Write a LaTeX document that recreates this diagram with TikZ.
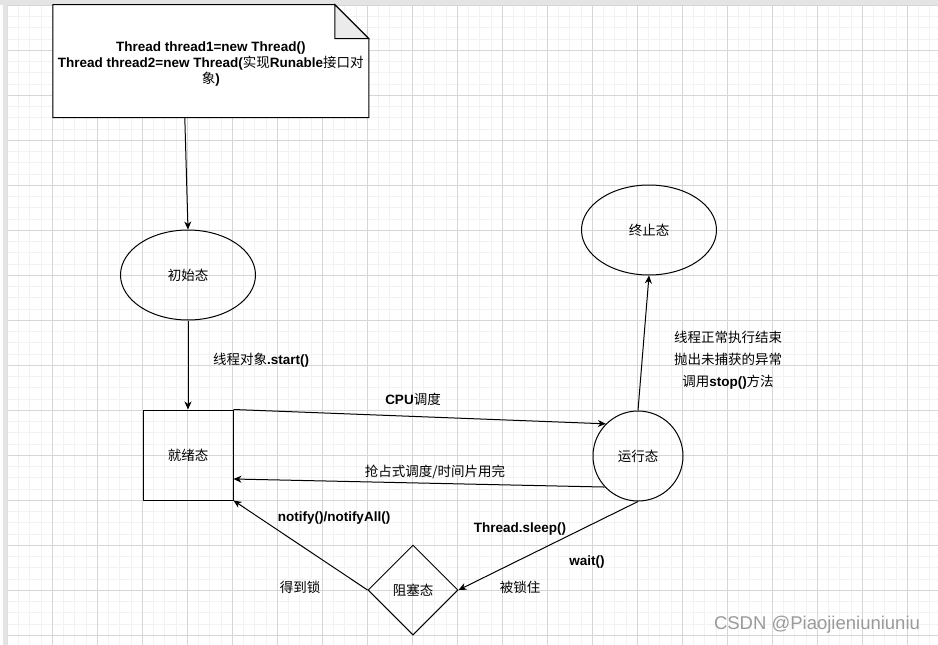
\documentclass[tikz,border=0pt]{standalone}
\usepackage{fontspec}
\setmainfont{Liberation Sans}
\newfontfamily\cjk{Noto Sans CJK SC}
\usetikzlibrary{arrows.meta,positioning,calc,shapes.geometric}
\definecolor{gridminor}{HTML}{F2F2F2}
\definecolor{gridmajor}{HTML}{D6D6D6}
\definecolor{framegray}{HTML}{E4E4E4}
\definecolor{foldgray}{HTML}{EBEBEB}
\definecolor{markgray}{HTML}{9A9A9A}
\newcommand{\zh}[1]{{\cjk\mdseries #1}}
\tikzset{
  txt/.style={font=\fontsize{13.5}{16}\selectfont\bfseries, align=center},
  state/.style={draw=black, line width=1pt, txt, inner sep=0pt},
  ovalstate/.style={state, ellipse, minimum width=135pt, minimum height=90pt},
  boxstate/.style={state, rectangle, minimum width=90pt, minimum height=90pt},
  roundstate/.style={state, circle, minimum size=90pt},
  diamondstate/.style={state, diamond, aspect=1, minimum size=90pt},
  notebox/.style={txt, minimum width=315pt, minimum height=112pt, inner sep=0pt},
  lbl/.style={txt, inner sep=1pt},
  arrow/.style={-{Stealth[length=8pt, width=7pt, inset=2.5pt]}, line width=1pt, draw=black}
}

\begin{document}
\begin{tikzpicture}[x=1pt, y=-1pt, line width=1pt]
  \useasboundingbox (0,0) rectangle (938,645);
  % background grid
  \fill[white] (0,0) rectangle (938,645);
  \fill[framegray] (0,0) rectangle (938,4.5);
  \fill[framegray] (3,0) rectangle (7,645);
  \begin{scope}
    \clip (7.3,5.3) rectangle (938,645);
    \foreach \i in {0,...,83} \draw[gridminor, line width=0.9pt] ({7.3+11.25*\i},5) -- ++(0,640);
    \foreach \j in {0,...,57} \draw[gridminor, line width=0.9pt] (7,{5.3+11.25*\j}) -- ++(931,0);
    \foreach \i in {0,...,20} \draw[gridmajor, line width=0.9pt] ({7.3+45*\i},5) -- ++(0,640);
    \foreach \j in {0,...,14} \draw[gridmajor, line width=0.9pt] (7,{5.3+45*\j}) -- ++(931,0);
  \end{scope}

  % note
  \node[notebox] (note) at (210.8,61.2) {};
  \draw[fill=white] (note.north west) -- ($(note.north east)+(-34,0)$) -- ($(note.north east)+(0,34)$)
    -- (note.south east) -- (note.south west) -- cycle;
  \draw[fill=foldgray] ($(note.north east)+(-34,0)$) -- ($(note.north east)+(-34,34)$) -- ($(note.north east)+(0,34)$) -- cycle;
  \node[txt, inner sep=0pt] (notetext) at ([yshift=-3pt]note.center) {Thread thread1=new Thread()\\Thread thread2=new Thread(\zh{实现}Runable\zh{接口对}\\\zh{象})};

  % states
  \node[ovalstate] (init) at (188,275) {\zh{初始态}};
  \node[boxstate] (ready) at (188,455) {\zh{就绪态}};
  \node[roundstate] (run) at (638,456) {\zh{运行态}};
  \node[ovalstate] (dead) at (649,230) {\zh{终止态}};
  \node[diamondstate] (block) at (413,590) {\zh{阻塞态}};

  % transitions
  \draw[arrow] ([xshift=-26pt]note.south) -- (init.north);
  \draw[arrow] (init.south) -- (ready.north);
  \draw[arrow] (ready.north east) -- (run.135);
  \draw[arrow] (run.223) -- ([yshift=-24pt]ready.east);
  \draw[arrow] (run.north) -- (dead.south);
  \draw[arrow] (run.south) -- (block.east);
  \draw[arrow] (block.west) -- (ready.south east);

  % labels
  \node[lbl] (lstart) at (261,360) {\zh{线程对象}.start()};
  \node[lbl] (lcpu) at (413,399) {CPU\zh{调度}};
  \node[lbl] (lslice) at (435,472) {\zh{抢占式调度/时间片用完}};
  \node[lbl, font=\fontsize{13.5}{22}\selectfont\bfseries] (lend) at (728,360) {\zh{线程正常执行结束}\\\zh{抛出未捕获的异常}\\\zh{调用}stop()\zh{方法}};
  \node[lbl] (lnotify) at (334,518) {notify()/notifyAll()};
  \node[lbl] (llock) at (300,587) {\zh{得到锁}};
  \node[lbl] (lsleep) at (520,529) {Thread.sleep()};
  \node[lbl] (lwait) at (587,562) {wait()};
  \node[lbl] (lblocked) at (520,587) {\zh{被锁住}};

  % watermark
  \node[text=markgray, font=\fontsize{18.5}{20}\selectfont] (mark) at (817,625) {CSDN @Piaojieniuniuniu};
\end{tikzpicture}
\end{document}
